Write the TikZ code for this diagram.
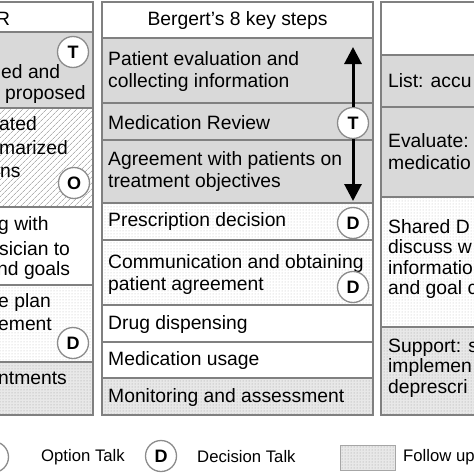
\documentclass[tikz,border=0pt]{standalone}
\usepackage{fontspec}
\setmainfont{Liberation Sans}
\usetikzlibrary{arrows.meta, patterns, patterns.meta}
\newcommand{\stepfont}{\fontsize{19.3}{22}\selectfont}
\newcommand{\legendfont}{\fontsize{16.7}{19}\selectfont}
\tikzstyle{talk} = [circle, draw=black!45, fill=white, line width=1.3pt,
minimum size=31pt, inner sep=0pt,
font=\bfseries\fontsize{18}{18}\selectfont]
\tikzstyle{bigarrow} = [line width=3pt, -{Triangle[width=17pt,length=17pt]}]

\begin{document}
\begin{tikzpicture}[
        x=1pt, y=-1pt,
        cell/.style={draw=black!50, line width=1.2pt},
        shaded/.style={cell, fill=black!15},
        hatched/.style={cell, preaction={fill=white}, pattern={Lines[angle=45, distance=4pt, line width=0.7pt]}, pattern color=black!30},
        followlight/.style={cell, preaction={fill=white}, pattern=dots, pattern color=black!26},
        followdense/.style={cell, preaction={fill=black!9}, pattern=dots, pattern color=black!38},
        txt/.style={anchor=west, align=left, inner sep=0pt, font=\stepfont},
    ]
        \useasboundingbox (0,0) rectangle (474,474);
        \clip (0,0) rectangle (474,474);

        % left column
        \draw[cell] (-10,2) rectangle (93,32);
        \draw[shaded] (-10,32) rectangle (93,108);
        \draw[hatched] (-10,108) rectangle (93,207);
        \draw[cell] (-10,207) rectangle (93,285);
        \draw[followlight] (-10,285) rectangle (93,362);
        \draw[followdense] (-10,362) rectangle (93,415);

        \node[txt] (lhead) at (-4,19) {R};
        \node[txt] (lsharedA) at (1,72) {ed and};
        \node[txt] (lsharedB) at (5,95) {proposed};
        \node[txt] (lsumA) at (-1,124) {ated};
        \node[txt] (lsumB) at (-1,148) {marized};
        \node[txt] (lsumC) at (0,172) {ns};
        \node[txt] (lmeetA) at (-2,226) {g with};
        \node[txt] (lmeetB) at (-1,249) {sician to};
        \node[txt] (lmeetC) at (-3,271) {nd goals};
        \node[txt] (lplanA) at (-2,303) {e plan};
        \node[txt] (lplanB) at (-2,324) {ement};
        \node[txt] (lappt) at (-2,378) {ntments};

        % Bergert's steps
        \draw[cell] (102,2) rectangle (373,38);
        \draw[shaded] (102,38) rectangle (373,103);
        \draw[shaded] (102,103) rectangle (373,140);
        \draw[shaded] (102,140) rectangle (373,203);
        \draw[followlight] (102,203) rectangle (373,240);
        \draw[followlight] (102,240) rectangle (373,305);
        \draw[cell] (102,305) rectangle (373,342);
        \draw[cell] (102,342) rectangle (373,378);
        \draw[followdense] (102,378) rectangle (373,415);

        \node[txt, anchor=center] (bhead) at (237.5,21) {Bergert's 8 key steps};
        \node[txt] (bevaluation) at (108,72) {Patient evaluation and\\collecting information};
        \node[txt] (breview) at (108,123) {Medication Review};
        \node[txt] (bagreement) at (108,172) {Agreement with patients on\\treatment objectives};
        \node[txt] (bprescription) at (108,222) {Prescription decision};
        \node[txt] (bcommunication) at (108,275) {Communication and obtaining\\patient agreement};
        \node[txt] (bdispensing) at (108,325) {Drug dispensing};
        \node[txt] (busage) at (108,361) {Medication usage};
        \node[txt] (bmonitoring) at (108,398) {Monitoring and assessment};

        % right column
        \draw[cell] (381,2) rectangle (490,55);
        \draw[shaded] (381,55) rectangle (490,107);
        \draw[shaded] (381,107) rectangle (490,197);
        \draw[followlight] (381,197) rectangle (490,327);
        \draw[followdense] (381,327) rectangle (490,415);

        \node[txt] (rlist) at (388,81) {List: accu};
        \node[txt] (revaluate) at (388,152) {Evaluate:\\medicatio};
        \node[txt, font=\fontsize{19.3}{20.2}\selectfont] (rshared) at (388,259) {Shared D\\discuss w\\informatio\\and goal c};
        \node[txt, font=\fontsize{19.3}{20.5}\selectfont] (rsupport) at (388,368) {Support: s\\implemen\\deprescri};

        % talk markers
        \node[talk] (lT) at (73,52) {T};
        \node[talk] (lO) at (74,183) {O};
        \node[talk] (lD) at (73,343) {D};
        \node[talk] (bT) at (353,123) {T};
        \node[talk] (bD1) at (353,223) {D};
        \node[talk] (bD2) at (353,287) {D};

        \coordinate (uptip) at (353,47);
        \coordinate (downtip) at (353,201);
        \draw[bigarrow] (bT.north) -- (uptip);
        \draw[bigarrow] (bT.south) -- (downtip);

        % legend
        \node[talk] (legO) at (-7,457) {O};
        \node[anchor=west, inner sep=0pt, font=\legendfont] (legOtext) at (41,457) {Option Talk};
        \node[talk] (legD) at (161,456) {D};
        \node[anchor=west, inner sep=0pt, font=\legendfont] (legDtext) at (197,457) {Decision Talk};
        \draw[followdense, draw=black!35, line width=1pt] (340,445) rectangle (395,470);
        \node[anchor=west, inner sep=0pt, font=\legendfont] (legFtext) at (403,457) {Follow up};
    \end{tikzpicture}
\end{document}
